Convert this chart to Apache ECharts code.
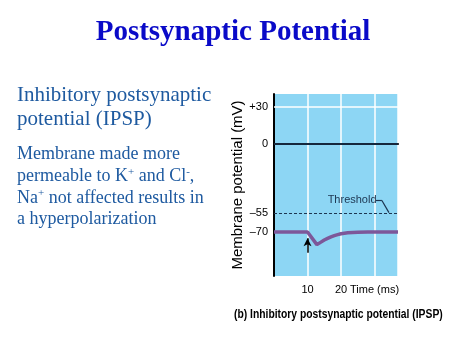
<!DOCTYPE html>
<html>
<head>
<meta charset="utf-8">
<script src="https://cdn.jsdelivr.net/npm/echarts@6/dist/echarts.min.js"></script>
<style>
html,body{margin:0;padding:0;background:#fff;}
#chart{width:474px;height:355px;}
</style>
</head>
<body>
<div id="chart"></div>
<script>
// ---- data ----
const timeMs      = [0, 10, 10.5, 12.8, 14, 15, 16, 17, 18, 19, 20, 22, 25, 28, 37];
const potentialMv = [-70, -70, -70, -80, -78, -76.3, -75, -73.8, -72.8, -72, -71.3, -70.6, -70.2, -70, -70];
const yTickValues = [30, 0, -55, -70];
const yTickLabels = ['+30', '0', '\u201355', '\u201370'];
const xTickValues = [10, 20, 30];
const xTickLabels = ['10', '20', 'Time (ms)'];
const thresholdMv = -55;
const restMv = 0;
const topGridMv = 30;
const stimulusTime = 10;
const arrowFromMv = -86.5;
const arrowToMv = -75;

const titleText = 'Postsynaptic Potential';
const headLines = ['Inhibitory postsynaptic', 'potential (IPSP)'];
const bodyLines = ['Membrane made more', 'permeable to K{sup|+} and Cl{sup|-},', 'Na{sup|+} not affected results in', 'a hyperpolarization'];
const captionText = '(b) Inhibitory postsynaptic potential (IPSP)';
const yName = 'Membrane potential (mV)';

const sans = '"Liberation Sans", Arial, sans-serif';
const serif = '"Liberation Serif", "Times New Roman", serif';
const textBlue = '#1e5aa0';
const navy = '#1c3550';

const chart = echarts.init(document.getElementById('chart'), null, {renderer: 'canvas'});

const graphics = [];
graphics.push({type: 'text', x: 233, y: 33, style: {text: titleText, font: 'bold 29px ' + serif, fill: '#0a0ac8', textAlign: 'center', textVerticalAlign: 'middle'}});
const headY = [95, 119.5];
headLines.forEach((t, i) => graphics.push({type: 'text', x: 17, y: headY[i], style: {text: t, font: '21px ' + serif, fill: textBlue, textVerticalAlign: 'middle'}}));
const bodyY = [154, 176.5, 198, 219.5];
bodyLines.forEach((t, i) => graphics.push({type: 'text', x: 17, y: bodyY[i], style: {
  text: t, font: '18px ' + serif, fill: textBlue, textVerticalAlign: 'middle',
  rich: {sup: {fontSize: 11, fontFamily: serif, fill: textBlue, color: textBlue, padding: [0, 0, 9, 0]}}
}}));
graphics.push({type: 'text', x: 234, y: 315, scaleX: 0.86, style: {text: captionText, font: 'bold 12px ' + sans, fill: '#000', textVerticalAlign: 'middle'}});

const option = {
  animation: false,
  backgroundColor: '#ffffff',
  graphic: graphics,
  grid: {left: 274, top: 94, width: 124, height: 182, show: true, backgroundColor: '#8dd6f4', borderWidth: 0},
  xAxis: {
    type: 'value', min: 0, max: 37, interval: 10,
    axisLine: {show: true, lineStyle: {color: '#000', width: 2}},
    axisTick: {show: false},
    splitLine: {show: true, lineStyle: {color: '#ffffff', width: 1.5}},
    axisLabel: {
      margin: 8, color: '#000', fontSize: 11, fontFamily: sans,
      showMinLabel: false, showMaxLabel: false,
      formatter: v => { const i = xTickValues.indexOf(v); return i >= 0 ? xTickLabels[i] : ''; }
    }
  },
  yAxis: {
    type: 'value', min: -105, max: 40, interval: 5,
    name: yName, nameLocation: 'middle', nameGap: 27, nameRotate: 90,
    nameTextStyle: {fontSize: 15, fontFamily: sans, color: '#000'},
    axisLine: {show: true, lineStyle: {color: '#000', width: 2}},
    axisTick: {show: false},
    splitLine: {show: false},
    axisLabel: {
      margin: 6, color: '#000', fontSize: 11, fontFamily: sans,
      showMinLabel: false, showMaxLabel: false,
      formatter: v => { const i = yTickValues.indexOf(v); return i >= 0 ? yTickLabels[i] : ''; }
    }
  },
  series: [{
    type: 'line',
    data: timeMs.map((t, i) => [t, potentialMv[i]]),
    showSymbol: false, symbol: 'none',
    lineStyle: {color: '#7d5799', width: 3.5},
    z: 5,
    markLine: {
      silent: true, symbol: 'none', animation: false,
      label: {show: false},
      data: [
        {yAxis: topGridMv, lineStyle: {color: '#ffffff', width: 1.5, type: 'solid'}},
        {yAxis: restMv, lineStyle: {color: navy, width: 1.5, type: 'solid'}},
        {yAxis: thresholdMv, lineStyle: {color: navy, width: 1.2, type: [3, 2]}},
        [{coord: [30.4, -44.8], lineStyle: {color: navy, width: 1.2, type: 'solid'}}, {coord: [32.2, -44.8]}],
        [{coord: [32.2, -44.8], lineStyle: {color: navy, width: 1.2, type: 'solid'}}, {coord: [34.3, -54.5]}],
        [{coord: [stimulusTime, arrowFromMv], symbol: 'none', lineStyle: {color: '#000', width: 1.5, type: 'solid'}},
         {coord: [stimulusTime, arrowToMv], symbol: 'arrow', symbolSize: [6, 8]}]
      ]
    },
    markPoint: {
      silent: true, symbol: 'circle', symbolSize: 0,
      data: [{coord: [23.3, -44.2], label: {show: true, formatter: 'Threshold', color: navy, fontSize: 11, fontFamily: sans, position: 'inside'}}]
    }
  }]
};
chart.setOption(option);
</script>
</body>
</html>
